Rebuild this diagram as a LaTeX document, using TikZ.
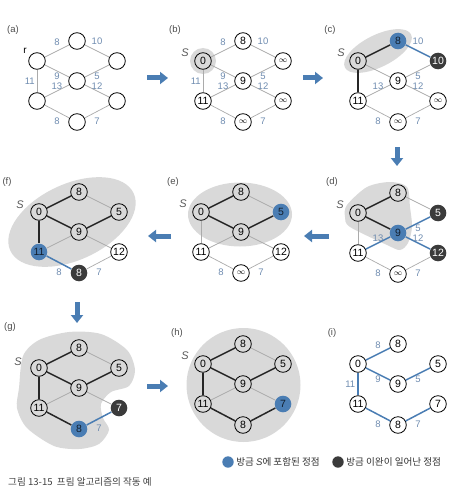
\documentclass[tikz,border=0pt]{standalone}
\usepackage{fontspec}
\setmainfont{Liberation Sans}
\newfontfamily\kr{Noto Sans CJK KR}
\usetikzlibrary{arrows.meta,positioning}

\definecolor{primblue}{HTML}{4A7DB3}
\definecolor{primdark}{HTML}{3B3B3B}
\definecolor{setgray}{HTML}{D9D9D9}
\definecolor{edgegray}{HTML}{ABABAB}
\definecolor{wtblue}{HTML}{6F8CB0}
\newcommand{\infnode}{{\footnotesize$\infty$}}

\tikzset{
  vertex/.style={circle,draw=black,line width=0.8pt,minimum size=16.6pt,inner sep=0pt,
    font=\fontsize{10.5}{10.5}\selectfont},
  added/.style={vertex,draw=none,fill=primblue,text=black!75!primblue},
  relaxed/.style={vertex,draw=none,fill=primdark,text=white},
  light/.style={draw=edgegray,line width=0.7pt},
  intree/.style={draw=black!85,line width=1.5pt},
  fresh/.style={draw=primblue,line width=1.5pt},
  wt/.style={text=wtblue,font=\fontsize{9.5}{10}\selectfont,inner sep=1pt},
  wtup/.style={above=4pt},
  wtupper/.style={above=5pt},
  wtnear/.style={above=0pt},
  wtdown/.style={below=0.5pt},
  wtlow/.style={below=5pt},
  wtleft/.style={left=1pt},
  tag/.style={text=black!70,font=\fontsize{9.5}{10}\selectfont},
  setname/.style={text=black!65,font=\fontsize{11}{11}\selectfont\itshape},
  blob/.style={fill=setgray},
  flow/.style={draw=primblue,line width=5pt,-{Triangle[width=12pt,length=8pt]}},
  key/.style={text=black!80,font=\kr\fontsize{9.6}{10}\selectfont,inner sep=1pt},
}

\begin{document}
\begin{tikzpicture}[x=1pt,y=-1pt]
\useasboundingbox (0,0) rectangle (474,492);

% (a)
\begin{scope}[shift={(37,61)}]
  \node[tag] (ta) at (-24,-31) {(a)};
  \node[font=\fontsize{10}{10}\selectfont] (ra) at (-12,-10) {r};
  \foreach \n/\x/\y in {1/0/0,2/40/-20,3/80/0,4/40/20,5/0/40,6/80/40,7/40/61}
    \node[vertex] (a\n) at (\x,\y) {};
  \foreach \u/\w/\s/\l/\p in {1/2/light/8/wtup,2/3/light/10/wtupper,1/4/light/9/wtdown,
      3/4/light/5/wtdown,1/5/light/11/wtleft,5/4/light/13/wtnear,4/6/light/12/wtnear,
      5/7/light/8/wtlow,7/6/light/7/wtlow}
    \draw[\s] (a\u) -- node[wt,\p] {\l} (a\w);
\end{scope}

% (b)
\begin{scope}[shift={(203,61)}]
  \fill[blob] (0,0) circle (13);
  \node[tag] (tb) at (-28,-31) {(b)};
  \node[setname] (sb) at (-18,-8) {S};
  \foreach \n/\x/\y/\v/\k in {1/0/0/0/vertex,2/40/-20/8/vertex,3/80/0/\infnode/vertex,4/40/20/9/vertex,
      5/0/40/11/vertex,6/80/40/\infnode/vertex,7/40/61/\infnode/vertex}
    \node[\k] (b\n) at (\x,\y) {\v};
  \foreach \u/\w/\s/\l/\p in {1/2/light/8/wtup,2/3/light/10/wtupper,1/4/light/9/wtdown,
      3/4/light/5/wtdown,1/5/light/11/wtleft,5/4/light/13/wtnear,4/6/light/12/wtnear,
      5/7/light/8/wtlow,7/6/light/7/wtlow}
    \draw[\s] (b\u) -- node[wt,\p] {\l} (b\w);
\end{scope}

% (c)
\begin{scope}[shift={(358,61)}]
  \fill[blob,rotate around={26.6:(20,-10)}] (20,-10) ellipse (37 and 16);
  \node[tag] (tc) at (-28,-31) {(c)};
  \node[setname] (sc) at (-17,-8) {S};
  \foreach \n/\x/\y/\v/\k in {1/0/0/0/vertex,2/40/-20/8/added,3/80/0/10/relaxed,4/40/20/9/vertex,
      5/0/40/11/vertex,6/80/40/\infnode/vertex,7/40/61/\infnode/vertex}
    \node[\k] (c\n) at (\x,\y) {\v};
  \foreach \u/\w/\s/\l/\p in {1/2/intree/{}/wtup,2/3/fresh/10/wtupper,1/4/light/{}/wtdown,
      3/4/light/5/wtdown,1/5/intree/{}/wtleft,5/4/light/13/wtnear,4/6/light/12/wtnear,
      5/7/light/8/wtlow,7/6/light/7/wtlow}
    \draw[\s] (c\u) -- node[wt,\p] {\l} (c\w);
\end{scope}

% (d)
\begin{scope}[shift={(358,213)}]
  \fill[blob] plot[smooth cycle] coordinates {(-11,-8) (9,-26) (32,-31) (49,-26) (52,-6) (54,14)
      (50,30) (42,37) (29,32) (-8,14) (-13,4)};
  \node[tag] (td) at (-26,-31) {(d)};
  \node[setname] (sd) at (-18,-8) {S};
  \foreach \n/\x/\y/\v/\k in {1/0/0/0/vertex,2/40/-20/8/vertex,3/80/0/5/relaxed,4/40/20/9/added,
      5/0/40/11/vertex,6/80/40/12/relaxed,7/40/61/\infnode/vertex}
    \node[\k] (d\n) at (\x,\y) {\v};
  \foreach \u/\w/\s/\l/\p in {1/2/intree/{}/wtup,2/3/light/{}/wtup,1/4/intree/{}/wtdown,
      3/4/fresh/5/wtdown,1/5/light/{}/wtleft,5/4/fresh/13/wtnear,4/6/fresh/12/wtnear,
      5/7/light/8/wtlow,7/6/light/7/wtlow}
    \draw[\s] (d\u) -- node[wt,\p] {\l} (d\w);
\end{scope}

% (e)
\begin{scope}[shift={(201,212)}]
  \fill[blob] (39,2.5) ellipse (52 and 32);
  \node[tag] (te) at (-28,-30) {(e)};
  \node[setname] (se) at (-18,-8) {S};
  \foreach \n/\x/\y/\v/\k in {1/0/0/0/vertex,2/40/-20/8/vertex,3/80/0/5/added,4/40/20/9/vertex,
      5/0/40/11/vertex,6/80/40/12/vertex,7/40/61/\infnode/vertex}
    \node[\k] (e\n) at (\x,\y) {\v};
  \foreach \u/\w/\s/\l/\p in {1/2/intree/{}/wtup,2/3/light/{}/wtup,1/4/intree/{}/wtdown,
      3/4/intree/{}/wtdown,1/5/light/{}/wtleft,5/4/light/{}/wtnear,4/6/light/{}/wtnear,
      5/7/light/8/wtlow,7/6/light/7/wtlow}
    \draw[\s] (e\u) -- node[wt,\p] {\l} (e\w);
\end{scope}

% (f)
\begin{scope}[shift={(39,212)}]
  \fill[blob,rotate around={25:(33,10)}] (33,10) ellipse (68 and 38);
  \node[tag] (tf) at (-32,-30) {(f)};
  \node[setname] (sf) at (-19,-7) {S};
  \foreach \n/\x/\y/\v/\k in {1/0/0/0/vertex,2/40/-20/8/vertex,3/80/0/5/vertex,4/40/20/9/vertex,
      5/0/40/11/added,6/80/40/12/vertex,7/40/61/8/relaxed}
    \node[\k] (f\n) at (\x,\y) {\v};
  \foreach \u/\w/\s/\l/\p in {1/2/intree/{}/wtup,2/3/light/{}/wtup,1/4/intree/{}/wtdown,
      3/4/intree/{}/wtdown,1/5/intree/{}/wtleft,5/4/light/{}/wtnear,4/6/light/{}/wtnear,
      5/7/fresh/8/wtlow,7/6/light/7/wtlow}
    \draw[\s] (f\u) -- node[wt,\p] {\l} (f\w);
\end{scope}

% (g)
\begin{scope}[shift={(39,368)}]
  \fill[blob] plot[smooth cycle] coordinates {(-20,20) (-16,-12) (0,-28) (30,-36) (62,-34) (88,-18)
      (96,2) (90,18) (72,24) (62,36) (64,50) (70,62) (60,76) (40,81) (15,78) (-12,60) (-22,40)};
  \node[tag] (tg) at (-29,-41) {(g)};
  \node[setname] (sg) at (-21,-6) {S};
  \foreach \n/\x/\y/\v/\k in {1/0/0/0/vertex,2/40/-20/8/vertex,3/80/0/5/vertex,4/40/20/9/vertex,
      5/0/40/11/vertex,6/80/40/7/relaxed,7/40/61/8/added}
    \node[\k] (g\n) at (\x,\y) {\v};
  \foreach \u/\w/\s/\l/\p in {1/2/intree/{}/wtup,2/3/light/{}/wtup,1/4/intree/{}/wtdown,
      3/4/intree/{}/wtdown,1/5/intree/{}/wtleft,5/4/light/{}/wtnear,4/6/light/{}/wtnear,
      5/7/intree/{}/wtlow,7/6/fresh/7/wtlow}
    \draw[\s] (g\u) -- node[wt,\p] {\l} (g\w);
\end{scope}

% (h)
\begin{scope}[shift={(203,364)}]
  \fill[blob] (40.5,21) circle (57);
  \node[tag] (th) at (-26,-31) {(h)};
  \node[setname] (sh) at (-18,-8) {S};
  \foreach \n/\x/\y/\v/\k in {1/0/0/0/vertex,2/40/-20/8/vertex,3/80/0/5/vertex,4/40/20/9/vertex,
      5/0/40/11/vertex,6/80/40/7/added,7/40/61/8/vertex}
    \node[\k] (h\n) at (\x,\y) {\v};
  \foreach \u/\w/\s in {1/2/intree,2/3/light,1/4/intree,3/4/intree,1/5/intree,5/4/light,4/6/light,
      5/7/intree,7/6/intree}
    \draw[\s] (h\u) -- (h\w);
\end{scope}

% (i)
\begin{scope}[shift={(358,364)}]
  \node[tag] (ti) at (-26,-31) {(i)};
  \foreach \n/\x/\y/\v in {1/0/0/0,2/40/-20/8,3/80/0/5,4/40/20/9,5/0/40/11,6/80/40/7,7/40/61/8}
    \node[vertex] (i\n) at (\x,\y) {\v};
  \foreach \u/\w/\l/\p in {1/2/8/wtup,1/4/9/wtdown,3/4/5/wtdown,1/5/11/wtleft,
      5/7/8/wtlow,7/6/7/wtlow}
    \draw[fresh] (i\u) -- node[wt,\p] {\l} (i\w);
\end{scope}

% arrows between steps
\foreach \i/\x/\y/\u/\v in {1/147/78/168/78,2/303/78/323/78,3/397/147/397/166,4/329/236/304/236,
    5/171/236/148/236,6/77/302/77/323,7/147/386/168/386} {
  \coordinate (from\i) at (\x,\y);
  \coordinate (to\i) at (\u,\v);
  \draw[flow] (from\i) -- (to\i);
}

% legend and caption
\node[added,minimum size=11.4pt] (keyadd) at (228,462) {};
\node[key,right=1pt of keyadd] (keyaddtext) {방금 {\normalfont\itshape S}에 포함된 정점};
\node[relaxed,minimum size=11.4pt] (keyrel) at (338,462) {};
\node[key,right=1pt of keyrel] (keyreltext) {방금 이완이 일어난 정점};
\node[key,text=black!75,anchor=west] (caption) at (7,482) {그림 13-15~~프림 알고리즘의 작동 예};
\end{tikzpicture}
\end{document}
